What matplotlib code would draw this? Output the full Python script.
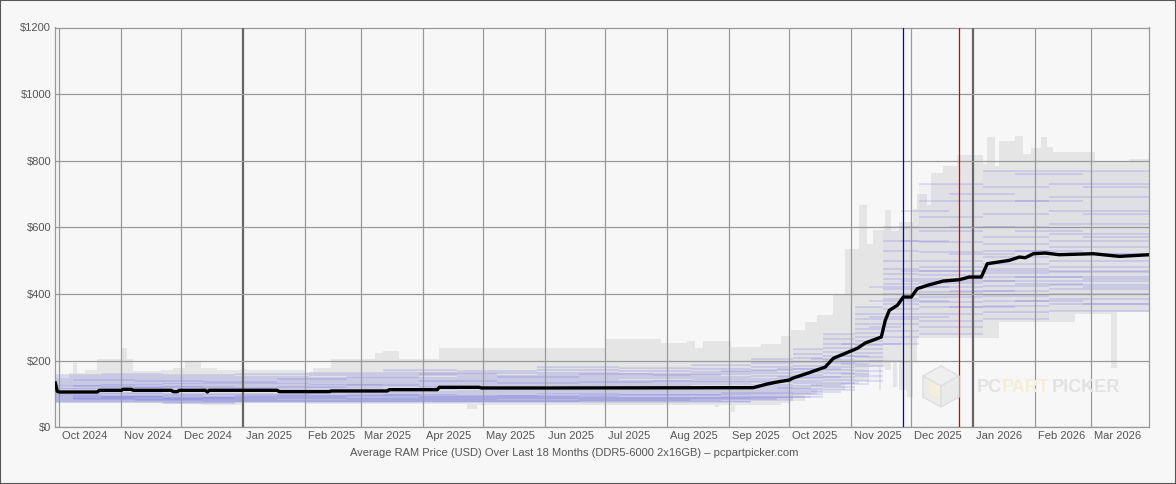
import numpy as np
import pandas as pd
import matplotlib.pyplot as plt
from matplotlib import font_manager
from matplotlib.patches import Rectangle, Polygon
from matplotlib.transforms import ScaledTranslation

plt.rcParams['font.family'] = ['Liberation Sans', 'DejaVu Sans']

# price envelope (min / max of all listed kits), step changes
env_dates = ["2024-09-29", "2024-10-06", "2024-10-08", "2024-10-10", "2024-10-14", "2024-10-20",
             "2024-11-01", "2024-11-04", "2024-11-07", "2024-11-21", "2024-11-27", "2024-12-03",
             "2024-12-11", "2024-12-19", "2024-12-31", "2025-01-03", "2025-02-01", "2025-02-05",
             "2025-02-14", "2025-03-08", "2025-03-12", "2025-03-20", "2025-04-09", "2025-04-23",
             "2025-04-28", "2025-06-03", "2025-07-01", "2025-07-29", "2025-08-11", "2025-08-15",
             "2025-08-19", "2025-08-25", "2025-08-27", "2025-09-02", "2025-09-04", "2025-09-17",
             "2025-09-27", "2025-10-02", "2025-10-09", "2025-10-15", "2025-10-23", "2025-10-29",
             "2025-11-05", "2025-11-09", "2025-11-10", "2025-11-12", "2025-11-15", "2025-11-16",
             "2025-11-18", "2025-11-21", "2025-11-22", "2025-11-24", "2025-11-25", "2025-11-29",
             "2025-12-02", "2025-12-04", "2025-12-09", "2025-12-11", "2025-12-17", "2025-12-24",
             "2026-01-06", "2026-01-08", "2026-01-12", "2026-01-14", "2026-01-15", "2026-01-22",
             "2026-01-26", "2026-01-30", "2026-02-04", "2026-02-07", "2026-02-10", "2026-02-21",
             "2026-03-03", "2026-03-11", "2026-03-14", "2026-03-20", "2026-03-30"]
env_low = [74, 74, 74, 74, 74, 74,
           74, 74, 74, 70, 70, 70,
           67, 67, 72, 72, 70, 70,
           70, 70, 70, 70, 70, 55,
           68, 67, 67, 67, 67, 67,
           67, 62, 67, 47, 67, 67,
           72, 80, 97, 112, 112, 130,
           140, 133, 182, 182, 112, 182,
           172, 196, 122, 196, 112, 92,
           196, 268, 268, 268, 268, 268,
           268, 268, 268, 316, 316, 316,
           316, 316, 316, 316, 316, 341,
           341, 177, 346, 346, 346]
env_high = [147, 162, 192, 162, 172, 205,
            238, 205, 168, 173, 178, 196,
            178, 171, 176, 171, 167, 178,
            206, 223, 228, 206, 238, 238,
            238, 238, 266, 253, 259, 238,
            259, 259, 259, 241, 241, 249,
            273, 291, 316, 336, 401, 536,
            666, 551, 551, 593, 593, 593,
            651, 589, 589, 589, 616, 616,
            656, 699, 666, 763, 783, 817,
            790, 872, 785, 860, 860, 875,
            820, 838, 872, 840, 825, 825,
            795, 795, 795, 806, 806]

# average price line
avg_dates = ["2024-09-29", "2024-09-30", "2024-10-01", "2024-10-20", "2024-10-21", "2024-11-01",
             "2024-11-02", "2024-11-06", "2024-11-07", "2024-11-26", "2024-11-27", "2024-11-29",
             "2024-11-30", "2024-12-13", "2024-12-14", "2024-12-15", "2025-01-18", "2025-01-19",
             "2025-02-13", "2025-02-14", "2025-03-14", "2025-03-15", "2025-04-08", "2025-04-09",
             "2025-04-29", "2025-04-30", "2025-06-03", "2025-09-13", "2025-09-20", "2025-09-25",
             "2025-10-01", "2025-10-03", "2025-10-11", "2025-10-19", "2025-10-23", "2025-10-29",
             "2025-11-04", "2025-11-08", "2025-11-16", "2025-11-18", "2025-11-20", "2025-11-24",
             "2025-11-27", "2025-12-01", "2025-12-04", "2025-12-09", "2025-12-17", "2025-12-25",
             "2025-12-30", "2026-01-05", "2026-01-08", "2026-01-19", "2026-01-24", "2026-01-27",
             "2026-01-31", "2026-02-06", "2026-02-13", "2026-03-02", "2026-03-15", "2026-03-30"]
avg_price = [133, 108, 106, 106, 111, 111,
             114, 114, 111, 111, 107, 107,
             111, 111, 106, 111, 111, 107,
             107, 109, 109, 113, 113, 120,
             120, 118, 118, 119, 130, 136,
             142, 148, 164, 181, 207, 222,
             237, 253, 271, 321, 351, 366,
             391, 391, 416, 426, 439, 443,
             451, 451, 491, 501, 511, 509,
             521, 523, 518, 521, 513, 518]

# individual kit prices, grouped by stretch of time
blue_periods = [("2024-09-29", "2024-10-22"), ("2024-10-22", "2024-11-22"), ("2024-11-22", "2024-12-28"),
                ("2024-12-28", "2025-02-03"), ("2025-02-03", "2025-03-12"), ("2025-03-12", "2025-04-18"),
                ("2025-04-18", "2025-05-28"), ("2025-05-28", "2025-07-08"), ("2025-07-08", "2025-08-13"),
                ("2025-08-13", "2025-09-12"), ("2025-09-12", "2025-10-03"), ("2025-10-03", "2025-10-18"),
                ("2025-10-18", "2025-11-03"), ("2025-11-03", "2025-11-17"), ("2025-11-17", "2025-12-05"),
                ("2025-12-05", "2026-01-06"), ("2026-01-06", "2026-02-08"), ("2026-02-08", "2026-03-30")]
blue_levels = [[77, 80, 82, 85, 88, 90, 93, 96, 99, 103, 114, 119, 124, 128, 133, 138, 144, 150, 156],
               [76, 79, 82, 84, 87, 90, 92, 95, 99, 102, 117, 122, 127, 131, 136, 141, 147, 153, 160],
               [74, 77, 80, 83, 85, 87, 89, 92, 96, 100, 115, 120, 125, 130, 134, 139, 145, 152, 158],
               [76, 79, 82, 85, 88, 90, 93, 97, 101, 113, 118, 124, 129, 134, 140, 146, 152, 160],
               [76, 79, 82, 85, 88, 91, 94, 98, 102, 114, 120, 126, 131, 137, 143, 149, 156, 164],
               [75, 78, 81, 84, 87, 90, 93, 96, 100, 106, 116, 123, 129, 135, 142, 149, 156, 164, 172],
               [76, 79, 82, 85, 88, 91, 94, 98, 103, 108, 124, 130, 136, 142, 148, 155, 162, 170],
               [77, 80, 83, 86, 89, 92, 95, 99, 104, 110, 126, 132, 138, 144, 150, 157, 164, 172, 180],
               [76, 79, 83, 86, 89, 92, 96, 100, 105, 111, 128, 134, 140, 147, 154, 161, 169, 178],
               [77, 80, 84, 88, 92, 96, 100, 105, 111, 118, 130, 137, 144, 151, 159, 167, 176, 186],
               [82, 87, 92, 97, 102, 108, 114, 121, 128, 136, 145, 154, 163, 172, 182, 193, 205],
               [92, 100, 108, 116, 124, 132, 140, 148, 156, 165, 174, 184, 195, 207, 220, 234],
               [112, 122, 132, 142, 152, 162, 172, 182, 192, 203, 214, 226, 238, 251, 265, 280],
               [140, 155, 170, 185, 198, 210, 222, 234, 246, 258, 270, 283, 296, 310, 325, 340, 360],
               [250, 270, 290, 310, 325, 340, 355, 370, 385, 400, 415, 430, 445, 460, 475, 500, 530, 560, 600],
               [280, 300, 320, 340, 360, 375, 390, 405, 420, 432, 444, 456, 468, 480, 500, 525, 555, 590,
                630, 680, 730],
               [325, 345, 365, 380, 395, 410, 425, 438, 450, 462, 475, 490, 510, 530, 550, 570, 600, 640,
                680, 720, 770],
               [350, 370, 385, 400, 415, 428, 440, 452, 465, 480, 500, 520, 540, 560, 580, 610, 650, 690,
                730, 770]]

# second, staggered set of kit prices (gives the streaky look)
blue_periods_b = [("2024-10-08", "2024-11-08"), ("2024-11-08", "2024-12-12"), ("2024-12-12", "2025-01-18"),
                  ("2025-01-18", "2025-02-22"), ("2025-02-22", "2025-03-30"), ("2025-03-30", "2025-05-08"),
                  ("2025-05-08", "2025-06-18"), ("2025-06-18", "2025-07-25"), ("2025-07-25", "2025-08-28"),
                  ("2025-08-28", "2025-09-25"), ("2025-09-25", "2025-10-12"), ("2025-10-12", "2025-10-27"),
                  ("2025-10-27", "2025-11-10"), ("2025-11-10", "2025-11-26"), ("2025-11-26", "2025-12-20"),
                  ("2025-12-20", "2026-01-22"), ("2026-01-22", "2026-02-25"), ("2026-02-25", "2026-03-30")]
blue_levels_b = [[84, 89, 95, 125, 142],
                 [81, 86, 94, 120, 138],
                 [78, 84, 91, 118, 136],
                 [80, 87, 95, 122, 144],
                 [80, 86, 96, 128, 150],
                 [79, 85, 92, 120, 138, 160],
                 [80, 87, 95, 132, 150],
                 [82, 88, 97, 135, 160],
                 [81, 88, 98, 138, 158],
                 [84, 92, 104, 140, 170],
                 [90, 104, 118, 150, 175],
                 [105, 128, 150, 175, 205],
                 [130, 160, 190, 215, 250],
                 [200, 250, 300, 330, 380, 420],
                 [330, 380, 420, 440, 470, 560, 650],
                 [360, 410, 440, 470, 520, 600, 700],
                 [380, 430, 450, 470, 530, 590, 680, 760],
                 [370, 420, 445, 470, 520, 570, 640, 720]]

event_dates = ["2025-11-27", "2025-12-25"]
event_colors = ["#0000dd", "#dd0000"]

y_ticks = [0, 200, 400, 600, 800, 1000, 1200]
x_start, x_end = "2024-09-29", "2026-03-30"

W, H = 1176, 484
fig = plt.figure(figsize=(W / 100, H / 100), dpi=100, facecolor="#f7f7f7")
ax = fig.add_axes([55.3 / W, 1 - 427.3 / H, (1149.3 - 55.3) / W, (427.3 - 27.5) / H])
ax.set_facecolor("#f7f7f7")

ed = pd.to_datetime(env_dates)
ax.fill_between(ed, env_low, env_high, step="post", color="#e5e5e5", lw=0, zorder=1)

for (s, e), levels in zip(blue_periods, blue_levels):
    s, e = pd.Timestamp(s), pd.Timestamp(e)
    ax.fill_between([s, e], min(levels), max(levels), color="#5050e0", alpha=0.04, lw=0, zorder=2)
    ax.hlines(levels, s, e, color="#5050e0", alpha=0.18, lw=1.2, zorder=2)
for (s, e), levels in zip(blue_periods_b, blue_levels_b):
    ax.hlines(levels, pd.Timestamp(s), pd.Timestamp(e), color="#5050e0", alpha=0.18, lw=1.2, zorder=2)

# grid
months = pd.date_range("2024-10-01", "2026-03-01", freq="MS")
for m in months:
    if m.month == 1:
        ax.axvline(m, color="#666666", lw=1.6, zorder=3)
    else:
        ax.axvline(m, color="#999999", lw=0.9, zorder=3)
for v in y_ticks:
    ax.axhline(v, color="#999999", lw=0.9, zorder=3)

for d, c in zip(event_dates, event_colors):
    ax.axvline(pd.Timestamp(d), color=c, lw=0.9, zorder=4)

ax.plot(pd.to_datetime(avg_dates), avg_price, color="black", lw=2.4, zorder=5)

ax.set_xlim(pd.Timestamp(x_start), pd.Timestamp(x_end))
ax.set_ylim(0, 1200)
ax.set_yticks(y_ticks)
ax.set_yticklabels(["$%d" % v for v in y_ticks])
ax.set_xticks(months)
ax.set_xticklabels([m.strftime("%b %Y") for m in months], ha="left")
ax.tick_params(length=0, pad=3, labelsize=8, colors="#555555")
for lab in ax.get_xticklabels():
    lab.set_transform(lab.get_transform() + ScaledTranslation(3 / 100, 0, fig.dpi_scale_trans))
for sp in ax.spines.values():
    sp.set_color("#999999")
    sp.set_linewidth(0.9)

fig.text(574.5 / W, 1 - 453 / H,
         "Average RAM Price (USD) Over Last 18 Months (DDR5-6000 2x16GB) \u2013 pcpartpicker.com",
         ha="center", va="center", fontsize=8, color="#555555")

# faint watermark
try:
    font_manager.findfont("Liberation Sans Narrow", fallback_to_default=False)
    wm_family, wm_size = "Liberation Sans Narrow", 16
except ValueError:
    wm_family, wm_size = "Liberation Sans", 13
for txt, px, col in [("PC", 977, "#e2e2e2"), ("PART", 1002, "#f6eedb"), ("PICKER", 1052, "#e2e2e2")]:
    fig.text(px / W, 1 - 387 / H, txt, ha="left", va="center", fontsize=wm_size,
             fontweight="bold", family=wm_family, color=col, zorder=2)

def fp(x, y):
    return (x / W, 1 - y / H)

top, ur, lr, bot, ll, ul, cen = fp(941, 366), fp(959, 376), fp(959, 397), fp(941, 407), fp(923, 397), fp(923, 376), fp(941, 386)
for pts, fc in [([top, ur, cen, ul], "#efefef"), ([ul, cen, bot, ll], "#ececec"), ([cen, ur, lr, bot], "#eaeaea")]:
    fig.patches.append(Polygon(pts, closed=True, transform=fig.transFigure, facecolor=fc,
                               edgecolor="#dedede", lw=1.0, zorder=2))
fig.patches.append(Polygon([fp(929, 381), fp(939, 386), fp(939, 398), fp(929, 393)], closed=True,
                           transform=fig.transFigure, facecolor="#f6eedb", edgecolor="none", zorder=3))

fig.patches.append(Rectangle((0, 0), 1, 1, transform=fig.transFigure, fill=False,
                             edgecolor="#555555", lw=1.5))

fig.savefig("out.png", dpi=100, facecolor=fig.get_facecolor())
